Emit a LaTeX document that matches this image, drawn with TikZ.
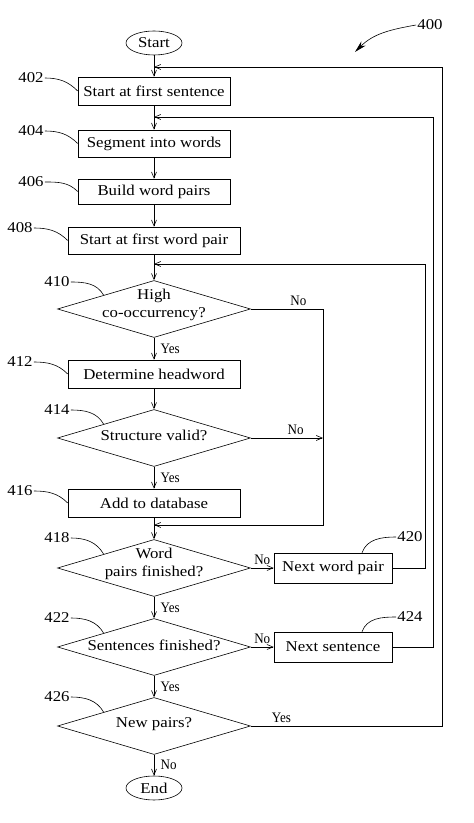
\documentclass[tikz,border=0pt]{standalone}
\usepackage{fontspec}
\setmainfont{Liberation Serif}[FakeStretch=1.12]
\newfontfamily\ynfont{Liberation Serif}[FakeStretch=0.9]
\usepackage{tikz}
\usetikzlibrary{calc}
\usetikzlibrary{shapes.geometric,arrows.meta}

\begin{document}
\begin{tikzpicture}[x=1pt,y=1pt,line width=0.6pt,
        font=\fontsize{15}{18}\selectfont,
        box/.style={draw,minimum height=28pt,inner sep=0pt},
        ask/.style={draw,diamond,minimum width=193pt,minimum height=57pt,inner sep=0pt},
        term/.style={draw,ellipse,minimum width=56pt,minimum height=24pt,inner sep=0pt},
        flow/.style={-{Straight Barb[length=6pt,width=5pt]}},
        yn/.style={font=\ynfont\fontsize{14.5}{16}\selectfont},
        tag/.style={inner sep=1pt}]
        \useasboundingbox (0,0) rectangle (474,823);

        \node[term] (start) at (154,780) {Start};
        \node[box,minimum width=152pt] (s402) at (154,732) {Start at first sentence};
        \node[box,minimum width=152pt,minimum height=27pt] (s404) at (154,679.5) {Segment into words};
        \node[box,minimum width=152pt,minimum height=25pt] (s406) at (154,631.5) {Build word pairs};
        \node[box,minimum width=172pt,minimum height=27pt] (s408) at (154,582.5) {Start at first word pair};
        \node[ask] (s410) at (154,514) {};
        \node[align=center] (t410) at (154,518) {High\\co-occurrency?};
        \node[box,minimum width=172pt] (s412) at (154,449) {Determine headword};
        \node[ask] (s414) at (154,385) {};
        \node (t414) at (154,388) {Structure valid?};
        \node[box,minimum width=172pt] (s416) at (154,320) {Add to database};
        \node[ask] (s418) at (154,255) {};
        \node[align=center] (t418) at (154,259) {Word\\pairs finished?};
        \node[box,minimum width=118pt,minimum height=30pt] (s420) at (333,255) {Next word pair};
        \node[ask] (s422) at (154,176) {};
        \node (t422) at (154,178) {Sentences finished?};
        \node[box,minimum width=118pt,minimum height=30pt] (s424) at (333,176) {Next sentence};
        \node[ask] (s426) at (154,97) {};
        \node (t426) at (154,99) {New pairs?};
        \node[term] (end) at (154,35) {End};

        \coordinate (j1) at (154,756);
        \coordinate (j2) at (154,706);
        \coordinate (j3) at (154,559);
        \coordinate (j4) at (154,298);
        \coordinate (r1) at (323,514);
        \coordinate (r2) at (323,385);
        \coordinate (c3) at (425,559);
        \coordinate (c2) at (433,706);
        \coordinate (c0) at (442,97);

        \draw[flow] (start) -- (s402);
        \draw[flow] (s402) -- (s404);
        \draw[flow] (s404) -- (s406);
        \draw[flow] (s406) -- (s408);
        \draw[flow] (s408) -- (s410);
        \draw[flow] (s410) -- node[yn,right,xshift=3pt]{Yes} (s412);
        \draw[flow] (s412) -- (s414);
        \draw[flow] (s414) -- node[yn,right,xshift=3pt]{Yes} (s416);
        \draw[flow] (s416) -- (s418);
        \draw[flow] (s418) -- node[yn,right,xshift=3pt]{Yes} (s422);
        \draw[flow] (s422) -- node[yn,right,xshift=3pt]{Yes} (s426);
        \draw[flow] (s426) -- node[yn,right,xshift=3pt]{No} (end);

        \draw[flow] (s410.east) -- node[yn,above,pos=0.66]{No} (r1) |- (j4);
        \draw[flow] (s414.east) -- node[yn,above,pos=0.62]{No} (r2);
        \draw[flow] (s418.east) -- node[yn,above]{No} (s420.west);
        \draw[flow] (s422.east) -- node[yn,above]{No} (s424.west);
        \draw[flow] (s420.east) -| (c3) -- (j3);
        \draw[flow] (s424.east) -| (c2) -- (j2);
        \draw[flow] (s426.east) -- node[yn,above,pos=0.16]{Yes} (c0) |- (j1);

        \node[tag] (n402) at (31,745) {402};
        \node[tag] (n404) at (31,692) {404};
        \node[tag] (n406) at (31,641) {406};
        \node[tag] (n408) at (20,595) {408};
        \node[tag] (n410) at (57,541) {410};
        \node[tag] (n412) at (20,461) {412};
        \node[tag] (n414) at (57,413) {414};
        \node[tag] (n416) at (20,332) {416};
        \node[tag] (n418) at (57,285) {418};
        \node[tag] (n420) at (410,286) {420};
        \node[tag] (n422) at (57,205) {422};
        \node[tag] (n424) at (410,206) {424};
        \node[tag] (n426) at (57,126) {426};
        \node[tag] (n400) at (430,798) {400};

        \draw (n402.east) to[out=0,in=135] (s402.west);
        \draw (n404.east) to[out=0,in=135] (s404.west);
        \draw (n406.east) to[out=0,in=135] (s406.west);
        \draw (n408.east) to[out=0,in=135] (s408.west);
        \draw (n412.east) to[out=0,in=135] (s412.west);
        \draw (n416.east) to[out=0,in=135] (s416.west);
        \draw (n410.east) to[out=0,in=120] ($(s410.west)!0.48!(s410.north)$);
        \draw (n414.east) to[out=0,in=120] ($(s414.west)!0.48!(s414.north)$);
        \draw (n418.east) to[out=0,in=120] ($(s418.west)!0.48!(s418.north)$);
        \draw (n422.east) to[out=0,in=120] ($(s422.west)!0.48!(s422.north)$);
        \draw (n426.east) to[out=0,in=120] ($(s426.west)!0.48!(s426.north)$);
        \draw (n420.west) to[out=180,in=70] ([xshift=29pt]s420.north);
        \draw (n424.west) to[out=180,in=70] ([xshift=29pt]s424.north);

        \coordinate (p400) at (355,771);
        \draw[-{Stealth[length=12pt,width=6pt]}] (n400.west) to[out=190,in=45] (p400);
    \end{tikzpicture}
\end{document}
